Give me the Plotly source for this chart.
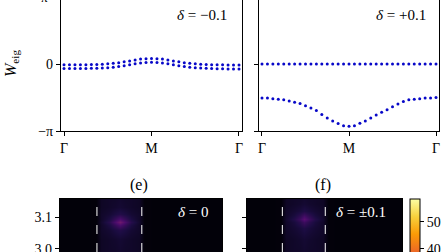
import plotly.graph_objects as go
import math

# ---------------- data ----------------
k_path = list(range(33))            # sample index along Γ-M-Γ path
k_ticks = [0, 16, 32]
k_ticklabels = ["Γ", "M", "Γ"]

# panel δ = -0.1 : two bands near zero
band_neg_a = [-0.03, -0.03, -0.03, -0.03, -0.03, -0.02, -0.02, -0.01, 0.01, 0.03, 0.06,
              0.10, 0.14, 0.19, 0.23, 0.25, 0.26, 0.25, 0.23, 0.19, 0.14, 0.10,
              0.06, 0.03, 0.01, -0.01, -0.02, -0.03, -0.04, -0.04, -0.05, -0.05, -0.05]
band_neg_b = [-0.21, -0.21, -0.21, -0.21, -0.21, -0.20, -0.20, -0.19, -0.17, -0.15, -0.12,
              -0.08, -0.04, 0.01, 0.05, 0.07, 0.08, 0.07, 0.05, 0.01, -0.04, -0.08,
              -0.12, -0.15, -0.17, -0.19, -0.20, -0.21, -0.22, -0.22, -0.23, -0.23, -0.23]

# panel δ = +0.1 : flat band and dipping band
band_pos_a = [0.0] * 33
band_pos_b = [-1.59, -1.60, -1.63, -1.65, -1.68, -1.74, -1.79, -1.85, -1.96, -2.06, -2.18,
              -2.37, -2.53, -2.67, -2.79, -2.89, -2.92, -2.89, -2.78, -2.67, -2.53, -2.39,
              -2.26, -2.15, -2.01, -1.87, -1.76, -1.68, -1.65, -1.63, -1.60, -1.59, -1.57]

y_ticks = [-math.pi, 0, math.pi]
y_ticklabels = ["−π", "0", "π"]

# heat maps (e) and (f)
heat_x = [0, 0.15, 0.22, 0.25, 0.30, 0.34, 0.37, 0.40, 0.44, 0.49, 0.52, 0.6, 0.8, 1.0]
heat_y_e = [2.99, 3.03, 3.06, 3.075, 3.085, 3.095, 3.11, 3.13, 3.16]
heat_e = [
    [0.5, 0.5, 0.7, 3.5, 4, 4, 4.5, 4, 4, 3.5, 0.7, 0.5, 0.5, 0.5],
    [0.5, 0.5, 0.7, 3.5, 4, 4.5, 5, 4.5, 4, 3.5, 0.7, 0.5, 0.5, 0.5],
    [0.5, 0.5, 0.7, 4, 5, 6.5, 7.5, 6.5, 5, 4, 0.7, 0.5, 0.5, 0.5],
    [0.5, 0.5, 0.7, 4, 6.5, 10, 13, 10, 6.5, 4, 0.7, 0.5, 0.5, 0.5],
    [0.5, 0.5, 0.7, 4.5, 8, 13, 18, 13, 8, 4.5, 0.7, 0.5, 0.5, 0.5],
    [0.5, 0.5, 0.7, 4, 6.5, 10, 13, 10, 6.5, 4, 0.7, 0.5, 0.5, 0.5],
    [0.5, 0.5, 0.7, 4, 5, 6.5, 7.5, 6.5, 5, 4, 0.7, 0.5, 0.5, 0.5],
    [0.5, 0.5, 0.7, 3.5, 4, 4.5, 5, 4.5, 4, 3.5, 0.7, 0.5, 0.5, 0.5],
    [0.5, 0.5, 0.7, 3.5, 4, 4, 4.5, 4, 4, 3.5, 0.7, 0.5, 0.5, 0.5],
]
heat_y_f = [2.99, 3.03, 3.065, 3.083, 3.094, 3.105, 3.12, 3.14, 3.16]
heat_f = [
    [0.5, 0.5, 0.7, 3.5, 4, 4, 4.5, 4, 4, 3.5, 0.7, 0.5, 0.5, 0.5],
    [0.5, 0.5, 0.7, 3.5, 4, 4.5, 5, 4.5, 4, 3.5, 0.7, 0.5, 0.5, 0.5],
    [0.5, 0.5, 0.7, 4, 5, 6, 7, 6, 5, 4, 0.7, 0.5, 0.5, 0.5],
    [0.5, 0.5, 0.7, 4, 6, 8.5, 11, 8.5, 6, 4, 0.7, 0.5, 0.5, 0.5],
    [0.5, 0.5, 0.7, 4.5, 7.5, 11, 15, 11, 7.5, 4.5, 0.7, 0.5, 0.5, 0.5],
    [0.5, 0.5, 0.7, 4, 6, 8.5, 11, 8.5, 6, 4, 0.7, 0.5, 0.5, 0.5],
    [0.5, 0.5, 0.7, 4, 5, 6, 7, 6, 5, 4, 0.7, 0.5, 0.5, 0.5],
    [0.5, 0.5, 0.7, 3.5, 4, 4.5, 5, 4.5, 4, 3.5, 0.7, 0.5, 0.5, 0.5],
    [0.5, 0.5, 0.7, 3.5, 4, 4, 4.5, 4, 4, 3.5, 0.7, 0.5, 0.5, 0.5],
]
strip_edges = [0.228, 0.505]
heat_zmax = 58.5
cbar_ticks = [40, 50]
heat_yticks = [3.0, 3.1]

# ---------------- figure ----------------
W, H = 448, 252
FONT = "Liberation Serif"
BLUE = "#0808c8"


def px_x(p):
    return p / W


def px_y(p):
    return 1 - p / H


fig = go.Figure()
for xs, ys, xa, ya in [(k_path, band_neg_a, "x", "y"), (k_path, band_neg_b, "x", "y"),
                       (k_path, band_pos_a, "x2", "y2"), (k_path, band_pos_b, "x2", "y2")]:
    fig.add_trace(go.Scatter(x=xs, y=ys, mode="markers", xaxis=xa, yaxis=ya,
                             marker=dict(size=3, color=BLUE), showlegend=False,
                             hoverinfo="skip"))

fig.add_trace(go.Heatmap(x=heat_x, y=heat_y_e, z=heat_e, xaxis="x3", yaxis="y3",
                         colorscale="Inferno", zmin=0, zmax=heat_zmax, zsmooth="best",
                         showscale=False))
fig.add_trace(go.Heatmap(x=heat_x, y=heat_y_f, z=heat_f, xaxis="x4", yaxis="y4",
                         colorscale="Inferno", zmin=0, zmax=heat_zmax, zsmooth="best",
                         showscale=True,
                         colorbar=dict(x=px_x(410), xanchor="left", xpad=0,
                                       y=px_y(199), yanchor="top", ypad=0,
                                       thickness=10, thicknessmode="pixels",
                                       len=158, lenmode="pixels",
                                       outlinewidth=1, outlinecolor="black",
                                       tickvals=cbar_ticks, ticks="outside", ticklen=4,
                                       tickcolor="black", ticklabeloverflow="allow",
                                       tickfont=dict(family=FONT, size=14, color="black"))))

axis_common = dict(showline=True, linecolor="black", linewidth=1.2, ticks="outside",
                   ticklen=4, tickcolor="black", tickwidth=1, showgrid=False, zeroline=False,
                   ticklabeloverflow="allow",
                   tickfont=dict(family=FONT, size=14, color="black"))

top_dom = [px_y(131), 1.0]
x_rng = [-0.55, 32.55]
y_rng = [-math.pi, 64 / 67 * math.pi]

fig.update_layout(
    width=W, height=H, margin=dict(l=0, r=0, t=0, b=0, autoexpand=False),
    paper_bgcolor="white", plot_bgcolor="white",
    xaxis=dict(domain=[px_x(61), px_x(242)], range=x_rng, anchor="y",
               tickvals=k_ticks, ticktext=k_ticklabels, **axis_common),
    yaxis=dict(domain=top_dom, range=y_rng, anchor="x", mirror=True,
               tickvals=y_ticks, ticktext=y_ticklabels, **axis_common),
    xaxis2=dict(domain=[px_x(259), px_x(439)], range=x_rng, anchor="y2",
                tickvals=k_ticks, ticktext=k_ticklabels, **axis_common),
    yaxis2=dict(domain=top_dom, range=y_rng, anchor="x2", mirror=True,
                tickvals=y_ticks, showticklabels=False, **axis_common),
    xaxis3=dict(domain=[px_x(60), px_x(222)], range=[0, 1], anchor="y3",
                showticklabels=False, showline=True, mirror=True, linecolor="black",
                ticks="", showgrid=False, zeroline=False),
    yaxis3=dict(domain=[0, px_y(199)], range=[2.9906, 3.15625], anchor="x3",
                tickvals=heat_yticks, ticktext=["3.0", "3.1"], mirror=True, **axis_common),
    xaxis4=dict(domain=[px_x(247), px_x(402)], range=[0, 1], anchor="y4",
                showticklabels=False, showline=True, mirror=True, linecolor="black",
                ticks="", showgrid=False, zeroline=False),
    yaxis4=dict(domain=[0, px_y(199)], range=[2.9906, 3.15625], anchor="x4",
                tickvals=heat_yticks, showticklabels=False, mirror=True, **axis_common),
)

# dashed strip boundaries in heat maps
for xr, yr in [("x3", "y3"), ("x4", "y4")]:
    for e in strip_edges:
        fig.add_shape(type="line", xref=xr, yref=yr + " domain", x0=e, x1=e, y0=0, y1=1,
                      line=dict(color="white", width=1, dash="dash"))


def label(text, x, y, size=14, color="black", angle=0):
    return dict(text=text, x=px_x(x), y=px_y(y), xref="paper", yref="paper",
                xanchor="center", yanchor="middle", showarrow=False, textangle=angle,
                font=dict(family=FONT, size=size, color=color))


ann = [
    label("<i>δ</i> = −0.1", 202, 15, size=15),
    label("<i>δ</i> = +0.1", 401, 15, size=15),
    label("<i>W</i><sub>eig</sub>", 11, 64, size=16, angle=-90),
    label("π", 44, -3, size=13),
    label("(e)", 139, 185, size=16),
    label("(f)", 323, 185, size=16),
    label("<i>δ</i> = 0", 193, 212, size=15, color="white"),
    label("<i>δ</i> = ±0.1", 361, 212, size=15, color="white"),
]
fig.update_layout(annotations=ann)

fig.write_html("out.html", config={"displayModeBar": False},
               post_script="document.body.style.margin='0';")
